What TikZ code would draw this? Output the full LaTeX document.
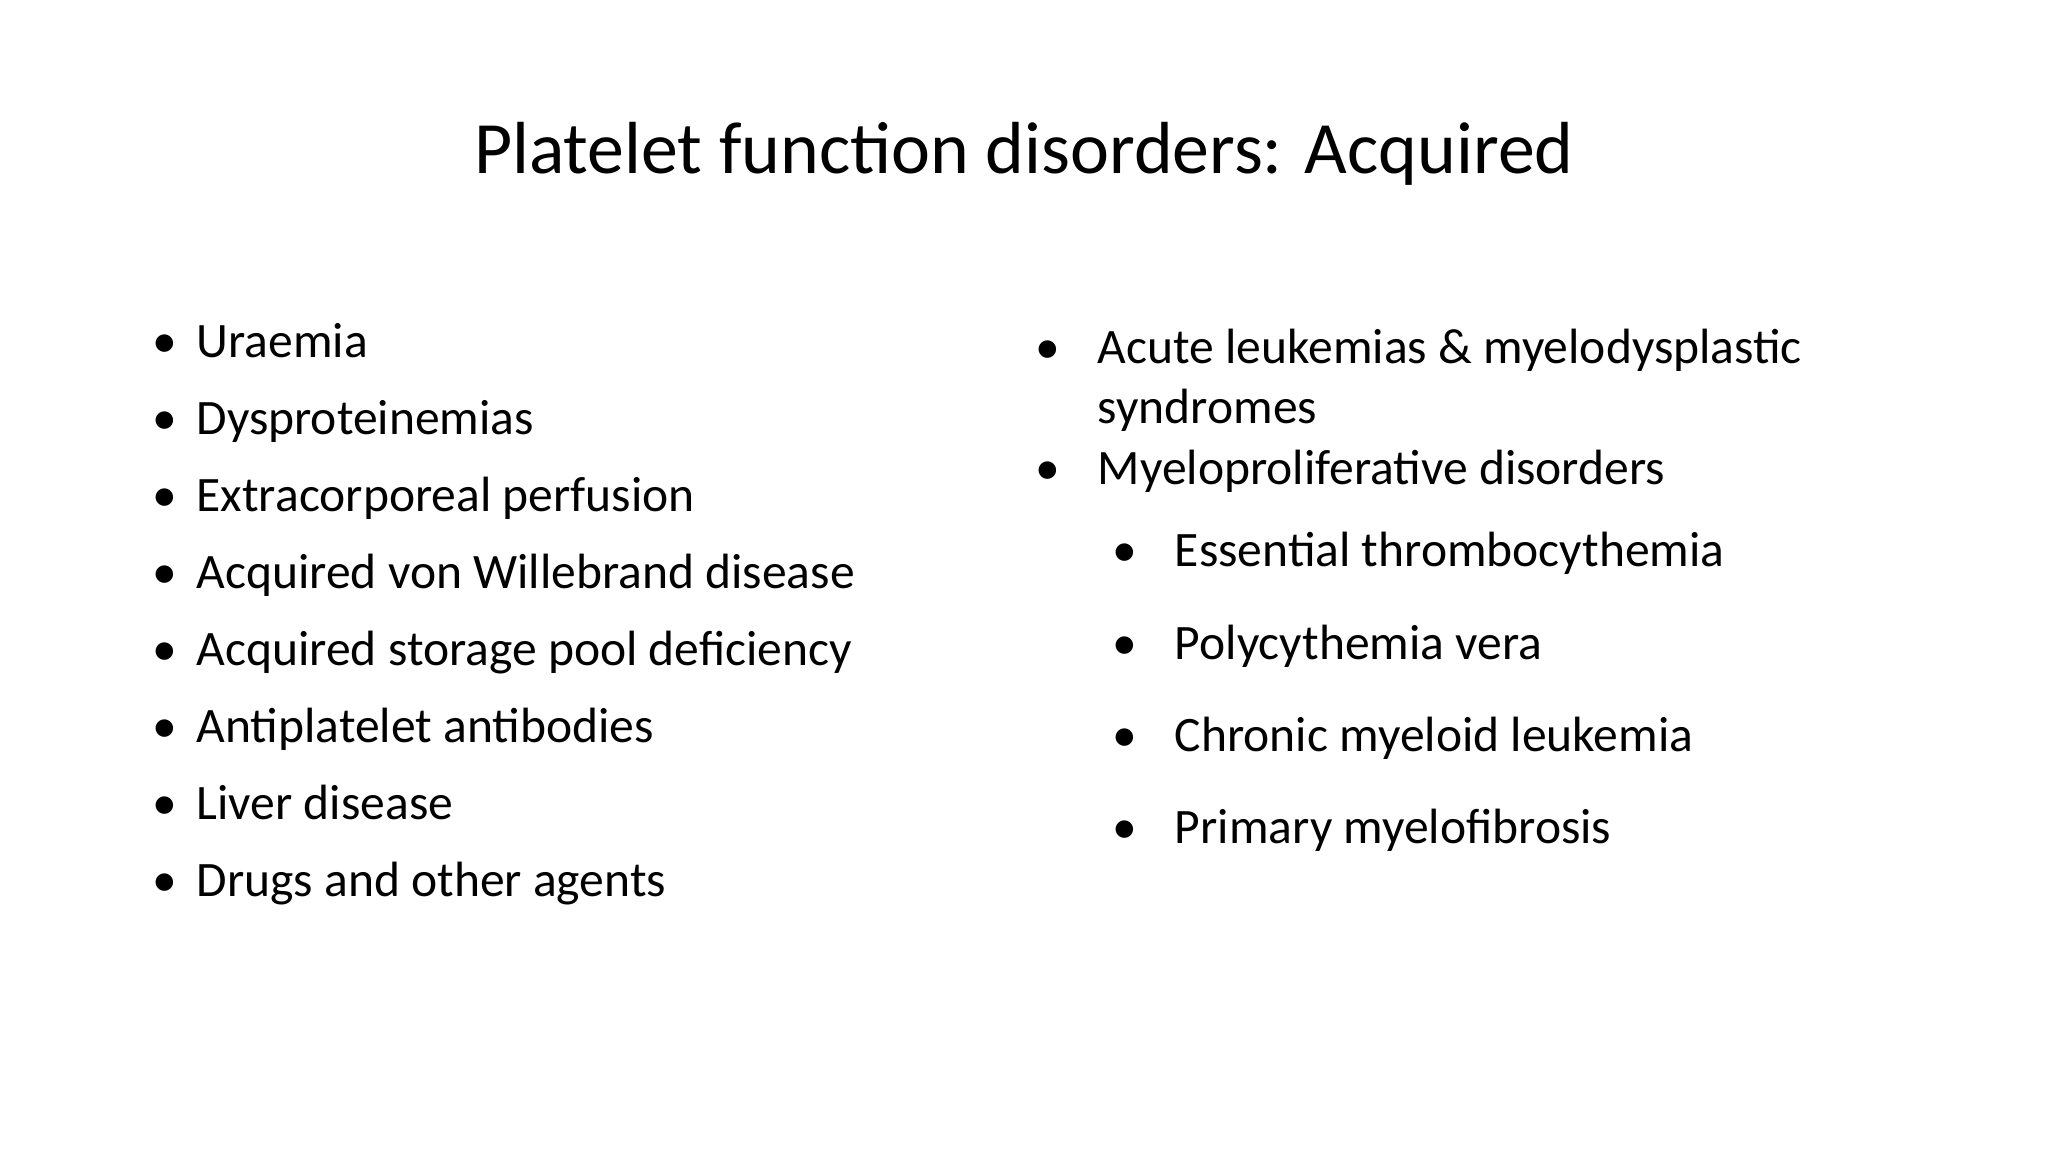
\documentclass[tikz,border=0pt]{standalone}
\usepackage{fontspec}
\setmainfont{Carlito}
\begin{document}
\begin{tikzpicture}[x=0.01306cm,y=-0.01306cm,
  item/.style={anchor=base west,inner sep=0pt,font=\fontsize{14.1pt}{17pt}\selectfont},
  bul/.style={anchor=base,inner sep=0pt,font=\fontsize{14.1pt}{17pt}\selectfont}]
\useasboundingbox[fill=white] (0,0) rectangle (1568,882);
\node[anchor=base,inner sep=0pt,font=\fontsize{21pt}{25pt}\selectfont] (title) at (784,133) {Platelet function disorders: Acquired};
\foreach \t [count=\i] in {Uraemia,Dysproteinemias,Extracorporeal perfusion,Acquired von Willebrand disease,Acquired storage pool deficiency,Antiplatelet antibodies,Liver disease,Drugs and other agents}{
  \node[bul] (lb\i) at (126,{274+58.86*(\i-1)}) {•};
  \node[item] (l\i) at (150,{274+58.86*(\i-1)}) {\t};
}
\node[bul] (rb1) at (802,278) {•};
\node[item] (r1) at (840,278) {Acute leukemias \& myelodysplastic};
\node[item] (r1b) at (840,324) {syndromes};
\node[bul] (rb2) at (802,371) {•};
\node[item] (r2) at (840,371) {Myeloproliferative disorders};
\foreach \t [count=\i] in {Essential thrombocythemia,Polycythemia vera,Chronic myeloid leukemia,Primary myelofibrosis}{
  \node[bul] (sb\i) at (861,{434+70.7*(\i-1)}) {•};
  \node[item] (s\i) at (899,{434+70.7*(\i-1)}) {\t};
}
\end{tikzpicture}
\end{document}
